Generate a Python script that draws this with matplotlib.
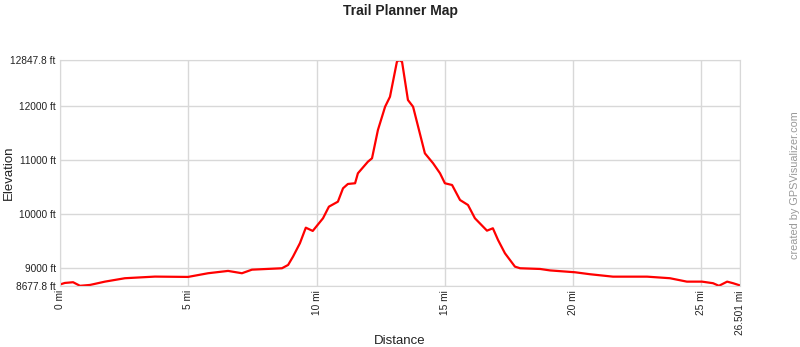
import matplotlib.pyplot as plt

plt.rcParams['font.family'] = ['Liberation Sans', 'DejaVu Sans']

# distance (mi) and elevation (ft) traced from the profile
dist_mi = [0, 0.19, 0.51, 0.78, 1.17, 1.75, 2.53, 3.70, 4.99, 5.77, 6.55, 7.09,
           7.48, 8.65, 8.89, 9.08, 9.35, 9.58, 9.85, 10.25, 10.48, 10.83, 11.03,
           11.22, 11.50, 11.61, 12.00, 12.16, 12.39, 12.67, 12.86, 13.13, 13.21,
           13.33, 13.56, 13.76, 14.22, 14.54, 14.81, 15.00, 15.28, 15.59, 15.90,
           16.17, 16.64, 16.87, 17.07, 17.34, 17.73, 17.93, 18.71, 19.10, 20.07,
           20.65, 21.55, 22.88, 23.77, 24.43, 25.02, 25.45, 25.68, 26.00, 26.23,
           26.501]
elev_ft = [8705, 8733, 8746, 8680, 8696, 8757, 8820, 8850, 8844, 8912, 8955, 8912,
           8978, 9004, 9065, 9218, 9466, 9753, 9693, 9927, 10141, 10233, 10480,
           10560, 10573, 10757, 10971, 11034, 11556, 11986, 12170, 12816, 12847.8,
           12816, 12110, 11986, 11126, 10942, 10757, 10573, 10541, 10264, 10172,
           9927, 9698, 9742, 9527, 9281, 9034, 9004, 8991, 8964, 8930,
           8894, 8849, 8849, 8820, 8757, 8757, 8728, 8680, 8757, 8728,
           8687]

x_ticks = [0, 5, 10, 15, 20, 25, 26.501]
x_labels = ['0 mi', '5 mi', '10 mi', '15 mi', '20 mi', '25 mi', '26.501 mi']
y_ticks = [8677.8, 9000, 10000, 11000, 12000, 12847.8]
y_labels = ['8677.8 ft', '9000 ft', '10000 ft', '11000 ft', '12000 ft', '12847.8 ft']

fig = plt.figure(figsize=(8, 3.47), dpi=100)
ax = fig.add_axes([0.075, 0.176, 0.85, 0.651])

ax.plot(dist_mi, elev_ft, color='#ff0000', linewidth=1.6)

ax.set_xlim(0, 26.501)
ax.set_ylim(8677.8, 12847.8)
ax.set_xticks(x_ticks)
ax.set_xticklabels(x_labels, rotation=90, fontsize=7.3, color='#222222')
ax.set_yticks(y_ticks)
ax.set_yticklabels(y_labels, fontsize=7.3, color='#222222')
ax.tick_params(length=0, pad=3)
ax.grid(True, color='#d8d8d8', linewidth=1)
for s in ax.spines.values():
    s.set_color('#d8d8d8')

fig.text(0.5, 0.017, 'Distance', ha='center', va='center',
         fontsize=9.5, color='#222222')
fig.text(0.011, 0.502, 'Elevation', rotation=90, ha='center', va='center',
         fontsize=9.5, color='#222222')

fig.text(0.5, 0.988, 'Trail Planner Map', ha='center', va='top',
         fontsize=10, fontweight='bold', color='#222222')
fig.text(0.994, 0.467, 'created by GPSVisualizer.com', rotation=90,
         ha='center', va='center', fontsize=7.8, color='#999999')

fig.savefig('out.png', dpi=100)
